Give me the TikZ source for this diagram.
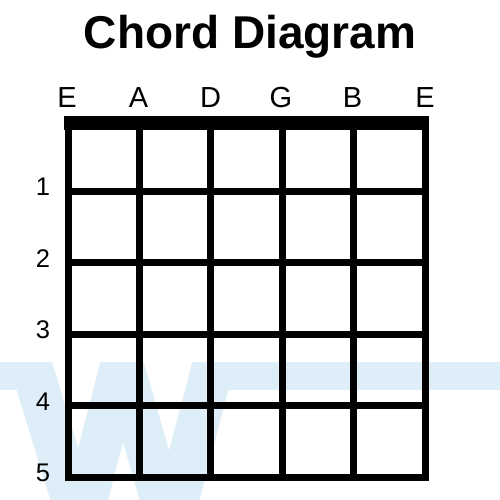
\documentclass[tikz,border=0pt]{standalone}
\usepackage{fontspec}
\setmainfont{Liberation Sans}
\definecolor{wm}{RGB}{221,238,248}
\tikzset{
  fretline/.style={line width=7pt, line cap=rect},
  stringline/.style={line width=7pt},
  strlabel/.style={anchor=base, inner sep=0pt, font=\fontsize{29}{29}\selectfont},
  fretnum/.style={anchor=base, inner sep=0pt, font=\fontsize{25.5}{25.5}\selectfont},
  titlelabel/.style={anchor=base, inner sep=0pt, font=\fontsize{46}{46}\bfseries\selectfont},
  watermark/.style={line width=42pt, draw=wm, line join=miter}
}
\begin{document}
\begin{tikzpicture}[x=1pt,y=-1pt]
  \useasboundingbox (0,0) rectangle (500,500);
  % watermark
  \begin{scope}
    \clip (0,362) rectangle (500,500);
    \draw[watermark] (30,362) -- (80,525) -- (122,362) -- (170,530) -- (214,362) -- (214,300);
  \end{scope}
  \fill[wm] (0,362) rectangle (30,390);
  \fill[wm] (208,362) rectangle (500,390);
  % title
  \node[titlelabel] (title) at (250,49) {Chord Diagram};
  % string labels
  \foreach \n/\x/\s in {s1/67/E, s2/138.5/A, s3/210.5/D, s4/281/G, s5/352.5/B, s6/425/E}
    \node[strlabel] (\n) at (\x,107) {\s};
  % frets (horizontal)
  \foreach \y in {191,262.5,334,405.5,477}
    \draw[fretline] (68,\y) -- (425,\y);
  % strings (vertical)
  \foreach \x in {68,139.5,210.5,282,353.5,425}
    \draw[stringline] (\x,119.5) -- (\x,480.5);
  % nut
  \fill (64,116.5) rectangle (428.5,130);
  % fret numbers
  \foreach \n/\y in {1/191,2/262.5,3/334,4/405.5,5/477}
    \node[fretnum] (f\n) at (43,\y+4.5) {\n};
\end{tikzpicture}
\end{document}
